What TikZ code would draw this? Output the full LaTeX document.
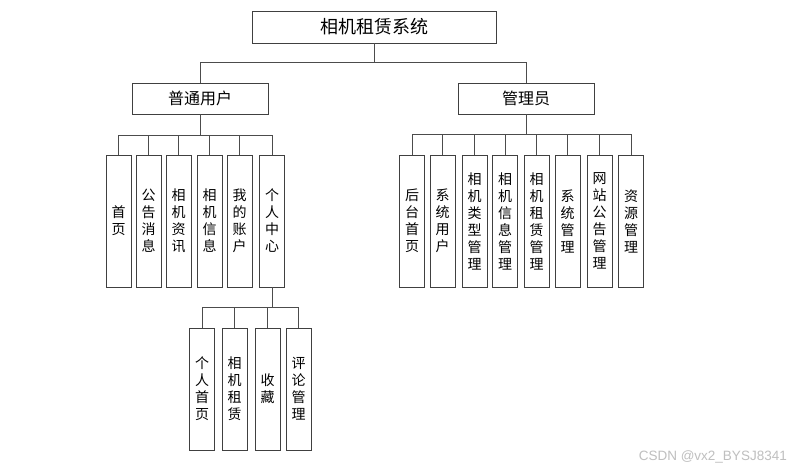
\documentclass[tikz,border=0pt]{standalone}
\usepackage{fontspec}
\newfontfamily\cjk{Noto Sans CJK SC}
\newfontfamily\wmfont{Liberation Sans}
\begin{document}
\begin{tikzpicture}[x=1pt,y=-1pt,
  box/.style={draw=black!75,line width=0.9pt,inner sep=0pt,fill=white},
  topbox/.style={box,minimum width=244pt,minimum height=32pt,font=\cjk\fontsize{18}{20}\selectfont},
  midbox/.style={box,minimum width=136pt,minimum height=31pt,font=\cjk\fontsize{16}{18}\selectfont},
  leaf/.style={box,minimum width=25pt,minimum height=132pt,align=center,font=\cjk\fontsize{14}{17}\selectfont},
  leafb/.style={leaf,minimum height=122pt},
  conn/.style={draw=black!70,line width=0.9pt},
  wm/.style={text=black!25,font=\wmfont\fontsize{13.5}{15}\selectfont,inner sep=0pt}
]
\useasboundingbox[fill=white] (0,0) rectangle (810,474);

\node[topbox] (root) at (374,27) {相机租赁系统};
\node[midbox] (user) at (200,98.5) {普通用户};
\node[midbox] (admin) at (526,98.5) {管理员};

% user children
\node[leaf] (u1) at (118.5,221) {首\\页};
\node[leaf] (u2) at (148.5,221) {公\\告\\消\\息};
\node[leaf] (u3) at (178.5,221) {相\\机\\资\\讯};
\node[leaf] (u4) at (209.5,221) {相\\机\\信\\息};
\node[leaf] (u5) at (239.5,221) {我\\的\\账\\户};
\node[leaf] (u6) at (272,221) {个\\人\\中\\心};

% admin children
\node[leaf] (a1) at (412,221) {后\\台\\首\\页};
\node[leaf] (a2) at (442.5,221) {系\\统\\用\\户};
\node[leaf] (a3) at (474.5,221) {相\\机\\类\\型\\管\\理};
\node[leaf] (a4) at (505,221) {相\\机\\信\\息\\管\\理};
\node[leaf] (a5) at (536.5,221) {相\\机\\租\\赁\\管\\理};
\node[leaf] (a6) at (567.5,221) {系\\统\\管\\理};
\node[leaf] (a7) at (599.5,221) {网\\站\\公\\告\\管\\理};
\node[leaf] (a8) at (631,221) {资\\源\\管\\理};

% personal center children
\node[leafb] (p1) at (202,389) {个\\人\\首\\页};
\node[leafb] (p2) at (234.5,389) {相\\机\\租\\赁};
\node[leafb] (p3) at (267.5,389) {收\\藏};
\node[leafb] (p4) at (298.5,389) {评\\论\\管\\理};

% buses
\coordinate (b0) at (374,62);
\coordinate (bu) at (200,135);
\coordinate (ba) at (526,134);
\coordinate (bp) at (272,307);

\draw[conn] (root.south) -- (b0);
\draw[conn] (user.north) -- (user.north |- b0) -- (admin.north |- b0) -- (admin.north);

\draw[conn] (user.south) -- (bu);
\draw[conn] (u1.north |- bu) -- (u6.north |- bu);
\foreach \n in {u1,u2,u3,u4,u5,u6} \draw[conn] (\n.north) -- (\n.north |- bu);

\draw[conn] (admin.south) -- (ba);
\draw[conn] (a1.north |- ba) -- (a8.north |- ba);
\foreach \n in {a1,a2,a3,a4,a5,a6,a7,a8} \draw[conn] (\n.north) -- (\n.north |- ba);

\draw[conn] (u6.south) -- (bp);
\draw[conn] (p1.north |- bp) -- (p4.north |- bp);
\foreach \n in {p1,p2,p3,p4} \draw[conn] (\n.north) -- (\n.north |- bp);

\node[wm,anchor=east] (wmk) at (787,457) {CSDN @vx2\_BYSJ8341};
\end{tikzpicture}
\end{document}
